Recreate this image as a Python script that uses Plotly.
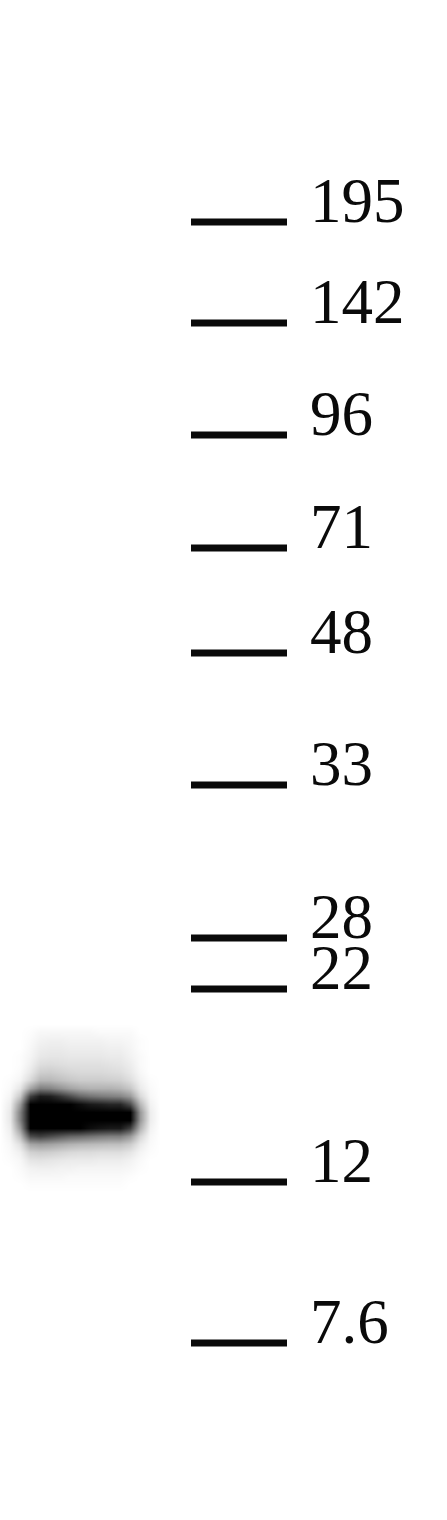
import plotly.graph_objects as go

# molecular weight marker ladder (kDa) and where each marker sits on the blot (px from top)
marker_kda = ['195', '142', '96', '71', '48', '33', '28', '22', '12', '7.6']
marker_pos = [222, 323, 435, 548, 653, 785, 938, 989, 1182, 1343]

band_cols = [0, 10, 20, 30, 40, 50, 60, 70, 80, 90, 100, 110, 120, 130, 140, 150, 160]
band_rows = [1024, 1032, 1040, 1048, 1056, 1064, 1072, 1080, 1088, 1096, 1104,
             1112, 1120, 1128, 1136, 1144, 1152, 1160, 1168, 1176, 1184, 1192]
band_density = [
    [0, 0, 0, 0, 0, 0, 0, 0, 0, 0, 0, 0, 0, 0, 0, 0, 0],
    [0, 0, 0, .01, .03, .03, .03, .03, .03, .03, .02, .02, .02, .02, 0, 0, 0],
    [0, 0, 0, .02, .05, .06, .06, .05, .05, .05, .05, .04, .04, .03, .01, 0, 0],
    [0, 0, 0, .03, .07, .08, .08, .07, .07, .07, .07, .06, .06, .04, .01, 0, 0],
    [0, 0, .01, .04, .09, .10, .10, .09, .09, .09, .09, .08, .08, .05, .02, 0, 0],
    [0, 0, .01, .06, .13, .14, .13, .12, .12, .12, .12, .11, .10, .07, .02, 0, 0],
    [0, 0, .02, .09, .19, .20, .18, .16, .15, .15, .15, .14, .13, .09, .03, 0, 0],
    [0, .01, .04, .15, .28, .28, .25, .22, .20, .20, .20, .19, .18, .13, .05, .01, 0],
    [0, .02, .10, .35, .50, .48, .42, .36, .32, .30, .30, .30, .28, .22, .08, .02, 0],
    [0, .04, .22, .75, .90, .88, .80, .70, .60, .55, .52, .50, .48, .40, .15, .03, 0],
    [0, .07, .40, 1, 1, 1, 1, 1, .95, .90, .88, .85, .85, .70, .28, .05, 0],
    [0, .09, .50, 1, 1, 1, 1, 1, 1, 1, 1, 1, 1, 1, .40, .07, 0],
    [0, .09, .50, 1, 1, 1, 1, 1, 1, 1, 1, 1, 1, 1, .40, .07, 0],
    [0, .07, .40, 1, 1, 1, 1, 1, 1, .95, .92, .90, .90, .75, .30, .05, 0],
    [0, .05, .25, .70, .75, .70, .65, .60, .58, .55, .52, .50, .50, .40, .16, .03, 0],
    [0, .03, .12, .35, .38, .36, .33, .30, .28, .27, .26, .25, .25, .20, .08, .02, 0],
    [0, .02, .06, .18, .20, .19, .17, .15, .14, .14, .13, .13, .13, .10, .04, .01, 0],
    [0, .01, .03, .10, .11, .10, .09, .08, .08, .08, .07, .07, .07, .05, .02, 0, 0],
    [0, 0, .02, .05, .06, .06, .05, .05, .04, .04, .04, .04, .04, .03, .01, 0, 0],
    [0, 0, .01, .03, .03, .03, .03, .02, .02, .02, .02, .02, .02, .01, 0, 0, 0],
    [0, 0, 0, .01, .01, .01, .01, .01, .01, .01, .01, .01, .01, 0, 0, 0, 0],
    [0, 0, 0, 0, 0, 0, 0, 0, 0, 0, 0, 0, 0, 0, 0, 0, 0],
]

W, H = 447, 1520
MARK_X0, MARK_X1 = 191, 287
LABEL_X = 310

fig = go.Figure()

# the band, smoothed by the browser between grid cells
fig.add_trace(go.Heatmap(
    x=band_cols, y=band_rows, z=band_density,
    zmin=0, zmax=1, zsmooth='best',
    colorscale=[[0, 'white'], [1, 'black']],
    showscale=False, hoverinfo='skip'))

# marker ladder bars
for pos in marker_pos:
    fig.add_trace(go.Scatter(
        x=[MARK_X0, MARK_X1], y=[pos, pos], mode='lines',
        line=dict(color='#0a0a0a', width=7),
        hoverinfo='skip', showlegend=False))

# ladder labels
fig.add_trace(go.Scatter(
    x=[LABEL_X] * len(marker_kda), y=[p - 16 for p in marker_pos],
    mode='text', text=marker_kda, textposition='middle right',
    textfont=dict(family='Liberation Serif', size=63, color='#0a0a0a'),
    hoverinfo='skip', showlegend=False))

fig.update_layout(
    width=W, height=H,
    margin=dict(l=0, r=0, t=0, b=0),
    plot_bgcolor='white', paper_bgcolor='white',
    xaxis=dict(range=[0, W], visible=False, fixedrange=True),
    yaxis=dict(range=[H, 0], visible=False, fixedrange=True),
    showlegend=False,
)

fig.write_html("out.html", config={'displayModeBar': False},
               post_script="document.body.style.margin='0';")
